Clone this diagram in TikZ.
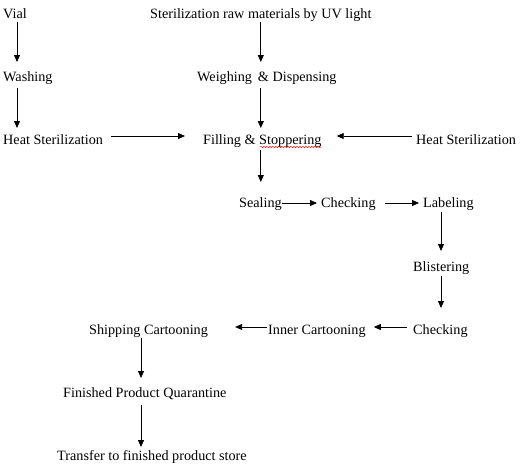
\documentclass[tikz,border=0pt]{standalone}
\usepackage{fontspec}
\setmainfont{Liberation Serif}
\usetikzlibrary{arrows.meta, calc, decorations.pathmorphing}

\begin{document}
\begin{tikzpicture}[x=1pt, y=-1pt,
  every node/.style={font=\fontsize{14.2}{17}\selectfont, anchor=base west, inner sep=0pt},
  flow/.style={-{Triangle[length=7pt, width=6pt]}, line width=0.8pt}]

  \useasboundingbox (0,0) rectangle (522,469);

  % left column
  \node (vial)  at (3,18)  {Vial};
  \node (wash)  at (3,81)  {Washing};
  \node (heatL) at (3,144) {Heat Sterilization};

  % main line
  \node (uv)     at (150,18)  {Sterilization raw materials by UV light};
  \node (weigh)  at (197,81)  {Weighing \,\& Dispensing};
  \node (fill)   at (203,144) {Filling \& Stoppering};
  \node (heatR)  at (416,144) {Heat Sterilization};
  \node (seal)   at (239,207) {Sealing};
  \node (checkA) at (321,207) {Checking};
  \node (label)  at (423,207) {Labeling};
  \node (blister) at (413,271) {Blistering};
  \node (checkB) at (413,334) {Checking};
  \node (inner)  at (268,334) {Inner Cartooning};
  \node (ship)   at (89,334)  {Shipping Cartooning};
  \node (quar)   at (63,397)  {Finished Product Quarantine};
  \node (trans)  at (57,460)  {Transfer to finished product store};

  \draw[red, line width=0.5pt, decorate, decoration={snake, amplitude=0.6pt, segment length=3pt}]
    ($(fill.base west)+(57,3)$) -- ($(fill.base east)+(0,3)$);

  \draw[flow] ($(vial.base west)+(14,4)$) -- ($(vial.base west |- wash.base)+(14,-19)$);
  \draw[flow] ($(wash.base west)+(14,7)$) -- ($(wash.base west |- heatL.base)+(14,-16)$);

  \draw[flow] ($(uv.base)+(0,4)$) -- ($(uv.base |- weigh.base)+(0,-19)$);
  \draw[flow] ($(uv.base |- weigh.base)+(0,7)$) -- ($(uv.base |- fill.base)+(0,-16)$);
  \draw[flow] ($(uv.base |- fill.base)+(0,6)$) -- ($(uv.base |- seal.base)+(0,-25)$);

  \draw[flow] ($(heatL.base east)+(8,-8)$) -- ($(fill.base west)+(-18,-8)$);
  \draw[flow] ($(heatR.base west)+(-4,-8)$) -- ($(fill.base east)+(15,-8)$);

  \draw[flow] ($(seal.base east)+(0,-4)$) -- ($(checkA.base west)+(-4,-4)$);
  \draw[flow] ($(checkA.base east)+(9,-4)$) -- ($(label.base west)+(-4,-4)$);
  \draw[flow] ($(label.base west)+(18,5)$) -- ($(label.base west |- blister.base)+(18,-20)$);
  \draw[flow] ($(label.base west |- blister.base)+(18,5)$) -- ($(label.base west |- checkB.base)+(18,-26)$);

  \draw[flow] ($(checkB.base west)+(-6,-7)$) -- ($(inner.base east)+(8,-7)$);
  \draw[flow] ($(inner.base west)+(-1,-7)$) -- ($(ship.base east)+(27,-7)$);
  \draw[flow] ($(ship.base west)+(52,4)$) -- ($(ship.base west |- quar.base)+(52,-19)$);
  \draw[flow] ($(ship.base west |- quar.base)+(52,8)$) -- ($(ship.base west |- trans.base)+(52,-13)$);
\end{tikzpicture}
\end{document}
